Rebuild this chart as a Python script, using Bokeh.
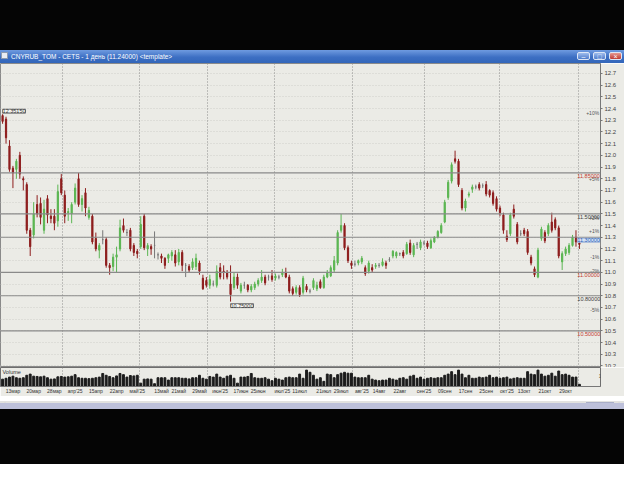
import numpy as np
from bokeh.plotting import figure
from bokeh.layouts import column
from bokeh.models import (ColumnDataSource, FixedTicker, SingleIntervalTicker, Grid,
                          Range1d, Label, Div, NumeralTickFormatter, Span)
from bokeh.core.properties import value
from bokeh.embed import file_html
from bokeh.resources import INLINE

# ---------------- data ----------------
opens = [
    12.34, 12.31, 12.08, 11.89, 11.88, 12.00, 11.80, 11.75, 11.36, 11.32,
    11.58, 11.59, 11.36, 11.63, 11.48, 11.48, 11.44, 11.80, 11.66, 11.51,
    11.50, 11.60, 11.80, 11.58, 11.68, 11.47, 11.48, 11.29, 11.19, 11.28,
    11.28, 11.06, 11.05, 11.13, 11.20, 11.40, 11.34, 11.36, 11.23, 11.18,
    11.22, 11.48, 11.20, 11.22, 11.23, 11.15, 11.14, 11.12, 11.12, 11.14,
    11.15, 11.09, 11.17, 11.06, 11.05, 11.04, 11.05, 11.08, 10.95, 10.93,
    10.89, 10.90, 10.89, 11.04, 11.01, 11.00, 10.90, 10.87, 10.96, 10.84,
    10.89, 10.89, 10.85, 10.87, 10.90, 10.93, 10.96, 10.96, 10.97, 10.95,
    10.96, 10.98, 11.00, 10.96, 10.86, 10.83, 10.87, 10.83, 10.88, 10.84,
    10.87, 10.86, 10.92, 10.87, 10.96, 10.97, 11.02, 11.08, 11.36, 11.40,
    11.21, 11.08, 11.07, 11.08, 11.09, 11.04, 11.01, 11.04, 11.05, 11.06,
    11.06, 11.08, 11.11, 11.14, 11.14, 11.16, 11.17, 11.16, 11.25, 11.15,
    11.24, 11.21, 11.25, 11.25, 11.21, 11.26, 11.30, 11.34, 11.43, 11.64,
    11.78, 11.97, 11.95, 11.70, 11.55, 11.66, 11.71, 11.73, 11.75, 11.74,
    11.75, 11.70, 11.68, 11.63, 11.55, 11.49, 11.31, 11.33, 11.54, 11.41,
    11.33, 11.36, 11.35, 11.13, 11.03, 10.96, 11.29, 11.34, 11.33, 11.43,
    11.45, 11.38, 11.09, 11.16, 11.17, 11.23, 11.30, 11.25]
highs = [
    12.3515, 12.33, 12.13, 11.91, 11.97, 12.03, 11.82, 11.77, 11.38, 11.60,
    11.66, 11.64, 11.62, 11.66, 11.54, 11.54, 11.75, 11.84, 11.70, 11.55,
    11.60, 11.76, 11.85, 11.66, 11.72, 11.56, 11.50, 11.34, 11.25, 11.36,
    11.30, 11.08, 11.16, 11.22, 11.45, 11.46, 11.37, 11.38, 11.25, 11.20,
    11.48, 11.50, 11.25, 11.24, 11.35, 11.17, 11.16, 11.13, 11.16, 11.19,
    11.19, 11.20, 11.19, 11.08, 11.07, 11.12, 11.16, 11.10, 10.98, 10.96,
    10.98, 10.93, 11.06, 11.08, 11.06, 11.02, 11.06, 11.00, 10.99, 10.91,
    10.92, 10.90, 10.90, 10.92, 10.95, 11.02, 10.98, 10.98, 11.02, 10.99,
    10.98, 11.03, 11.04, 10.98, 10.88, 10.89, 10.89, 10.97, 10.90, 10.86,
    10.95, 10.92, 10.94, 10.98, 11.02, 11.06, 11.14, 11.36, 11.50, 11.42,
    11.23, 11.10, 11.10, 11.11, 11.14, 11.06, 11.10, 11.07, 11.08, 11.08,
    11.12, 11.10, 11.13, 11.19, 11.18, 11.17, 11.19, 11.26, 11.28, 11.25,
    11.26, 11.28, 11.27, 11.27, 11.29, 11.31, 11.36, 11.42, 11.62, 11.79,
    11.94, 12.04, 11.97, 11.72, 11.63, 11.69, 11.75, 11.75, 11.77, 11.76,
    11.78, 11.71, 11.70, 11.65, 11.57, 11.51, 11.36, 11.51, 11.58, 11.43,
    11.36, 11.38, 11.37, 11.15, 11.05, 11.21, 11.39, 11.36, 11.42, 11.51,
    11.47, 11.40, 11.18, 11.22, 11.25, 11.32, 11.36, 11.27]
lows = [
    12.27, 12.10, 11.86, 11.72, 11.80, 11.80, 11.70, 11.33, 11.14, 11.29,
    11.47, 11.41, 11.33, 11.42, 11.42, 11.36, 11.39, 11.66, 11.42, 11.44,
    11.42, 11.58, 11.56, 11.52, 11.48, 11.45, 11.24, 11.18, 11.12, 11.24,
    11.04, 10.98, 11.01, 11.00, 11.18, 11.34, 11.31, 11.18, 11.14, 11.12,
    11.20, 11.19, 11.14, 11.15, 11.12, 11.11, 11.08, 11.03, 11.08, 11.10,
    11.05, 11.06, 11.01, 10.96, 11.00, 11.02, 11.02, 10.98, 10.85, 10.87,
    10.86, 10.88, 10.87, 10.94, 10.94, 10.94, 10.75, 10.85, 10.86, 10.82,
    10.86, 10.83, 10.83, 10.85, 10.88, 10.91, 10.89, 10.93, 10.92, 10.93,
    10.94, 10.96, 10.95, 10.82, 10.80, 10.81, 10.79, 10.81, 10.83, 10.82,
    10.85, 10.84, 10.86, 10.86, 10.95, 10.96, 11.00, 11.06, 11.34, 11.19,
    11.08, 11.03, 11.05, 11.06, 11.07, 10.97, 10.99, 11.00, 11.03, 11.04,
    11.05, 11.03, 11.09, 11.12, 11.12, 11.14, 11.12, 11.15, 11.15, 11.13,
    11.20, 11.19, 11.23, 11.20, 11.20, 11.25, 11.29, 11.33, 11.42, 11.62,
    11.76, 11.93, 11.73, 11.53, 11.52, 11.64, 11.68, 11.71, 11.70, 11.72,
    11.65, 11.64, 11.57, 11.52, 11.48, 11.33, 11.26, 11.31, 11.46, 11.24,
    11.31, 11.31, 11.15, 11.06, 10.96, 10.95, 11.27, 11.25, 11.31, 11.34,
    11.36, 11.12, 11.02, 11.14, 11.15, 11.22, 11.22, 11.20]
closes = [
    12.29, 12.15, 11.88, 11.85, 11.95, 11.84, 11.79, 11.36, 11.22, 11.50,
    11.50, 11.47, 11.54, 11.49, 11.46, 11.42, 11.69, 11.68, 11.48, 11.52,
    11.58, 11.72, 11.58, 11.63, 11.55, 11.53, 11.26, 11.20, 11.23, 11.28,
    11.06, 11.04, 11.13, 11.15, 11.38, 11.36, 11.34, 11.20, 11.17, 11.16,
    11.41, 11.21, 11.23, 11.20, 11.23, 11.15, 11.12, 11.06, 11.15, 11.17,
    11.08, 11.17, 11.06, 11.06, 11.02, 11.09, 11.12, 11.01, 10.86, 10.89,
    10.94, 10.90, 11.01, 10.96, 11.00, 10.96, 10.81, 10.96, 10.89, 10.89,
    10.89, 10.85, 10.88, 10.90, 10.93, 10.96, 10.91, 10.96, 10.94, 10.97,
    10.96, 11.00, 10.96, 10.84, 10.82, 10.87, 10.81, 10.95, 10.85, 10.84,
    10.93, 10.89, 10.87, 10.96, 11.00, 11.04, 11.10, 11.34, 11.40, 11.21,
    11.10, 11.06, 11.07, 11.10, 11.12, 10.99, 11.08, 11.02, 11.06, 11.06,
    11.09, 11.06, 11.11, 11.18, 11.17, 11.16, 11.14, 11.24, 11.17, 11.23,
    11.24, 11.26, 11.25, 11.22, 11.27, 11.30, 11.35, 11.40, 11.60, 11.77,
    11.92, 11.95, 11.75, 11.55, 11.61, 11.67, 11.73, 11.73, 11.72, 11.74,
    11.67, 11.66, 11.59, 11.54, 11.51, 11.36, 11.28, 11.49, 11.48, 11.26,
    11.33, 11.33, 11.17, 11.08, 10.98, 11.19, 11.37, 11.27, 11.40, 11.36,
    11.38, 11.14, 11.16, 11.20, 11.23, 11.30, 11.26, 11.24]
volumes_mln = [
    7.7, 8.7, 10.0, 11.0, 9.3, 8.7, 9.3, 12.0, 13.3, 11.0,
    10.7, 10.3, 11.0, 9.3, 7.7, 8.0, 10.3, 10.7, 10.0, 10.3,
    11.0, 12.7, 9.3, 8.7, 8.7, 8.3, 8.7, 9.3, 10.0, 14.0,
    12.0, 10.7, 9.3, 11.3, 14.0, 12.7, 10.0, 11.7, 11.3, 12.0,
    3.3, 7.7, 8.0, 7.7, 2.7, 9.3, 9.3, 9.3, 6.7, 9.3,
    9.3, 9.3, 8.7, 8.7, 8.0, 9.3, 9.3, 12.0, 8.7, 7.7,
    10.7, 10.0, 13.3, 10.0, 8.7, 11.0, 12.0, 8.7, 3.3, 10.0,
    10.0, 10.7, 14.0, 9.3, 8.7, 8.7, 9.3, 7.7, 6.0, 8.7,
    7.7, 6.7, 9.3, 10.0, 9.3, 9.3, 13.3, 8.7, 17.7, 15.3,
    12.0, 7.7, 9.3, 5.3, 13.3, 12.7, 9.3, 12.7, 14.3, 15.3,
    14.3, 14.3, 10.0, 9.3, 9.3, 9.3, 12.0, 7.7, 6.7, 6.0,
    6.7, 6.7, 8.7, 7.7, 6.7, 8.7, 9.3, 7.7, 11.0, 12.0,
    8.7, 10.0, 7.7, 8.7, 9.3, 8.7, 9.3, 9.3, 12.0, 13.3,
    16.0, 12.7, 17.7, 13.3, 9.3, 12.0, 8.7, 8.7, 10.0, 9.3,
    10.0, 12.0, 9.3, 10.0, 8.7, 9.3, 10.0, 8.0, 8.7, 9.3,
    8.7, 8.7, 16.0, 13.3, 12.7, 17.7, 13.3, 11.0, 12.0, 14.3,
    11.0, 16.7, 12.7, 13.3, 12.0, 10.0, 10.0, 2.0]

tick_labels = ["13мар", "20мар", "28мар", "апр'25", "15апр", "22апр", "май'25",
               "13май", "21май", "29май", "июн'25", "17июн", "25июн", "июл'25",
               "11июл", "21июл", "29июл", "авг'25", "14авг", "22авг", "сен'25",
               "09сен", "17сен", "25сен", "окт'25", "13окт", "21окт", "29окт"]
level_values = [11.85, 11.50, 11.30, 11.00, 10.80, 10.50]
pct_levels = [10, 5, 2, 1, -1, -2, -5]
volume_tick_mln = 11

# ---------------- layout / style constants ----------------
tick_pos = [3, 9, 15, 21, 27, 33, 39, 46, 51, 57, 63, 69, 74, 81, 86, 93, 98,
            104, 109, 115, 122, 128, 134, 140, 146, 151, 157, 163]
grid_x = [17.3, 39.6, 59.3, 78.7, 101.3, 122.1, 143.9, 166.7]
level_colors = ["#c23a2e", "#3c3c3c", "#2c5fb8", "#c23a2e", "#3c3c3c", "#c23a2e"]
FONT = "Liberation Sans"
BG = "#ebebe6"
UP, DOWN, FLAT = "#5cb653", "#8e1e1e", "#777777"
RB = 24  # right border (axis area)

n = len(closes)
colors = [UP if c > o + 0.004 else (DOWN if c < o - 0.004 else FLAT)
          for o, c in zip(opens, closes)]
src = ColumnDataSource(dict(x=list(range(n)), o=opens, h=highs, l=lows, c=closes,
                            color=colors, v=volumes_mln))

xr = Range1d(-0.6, 173.1)

# ---------------- price pane ----------------
p = figure(width=624, height=304, x_range=xr, y_range=Range1d(10.187, 12.785),
           output_backend="svg", toolbar_location=None, y_axis_location="right",
           x_axis_location=None, min_border_left=0, min_border_right=RB,
           min_border_top=0, min_border_bottom=0, background_fill_color=BG,
           border_fill_color=BG, outline_line_color="#8a8a8a", margin=(0, 0, 0, 0))
p.yaxis.ticker = SingleIntervalTicker(interval=0.1, num_minor_ticks=0)
p.yaxis.formatter = NumeralTickFormatter(format="0.0")
p.yaxis.axis_line_color = "#777777"
p.yaxis.major_tick_line_color = "#777777"
p.yaxis.major_tick_out = 2
p.yaxis.major_tick_in = 0
p.yaxis.minor_tick_line_color = None
p.yaxis.major_label_text_font = FONT
p.yaxis.major_label_text_font_size = "6px"
p.yaxis.major_label_text_color = "#444444"
p.yaxis.major_label_standoff = 2
p.ygrid.grid_line_color = "#cfcfca"
p.ygrid.grid_line_dash = "1 2"
p.xgrid.grid_line_color = None
p.add_layout(Grid(dimension=0, ticker=FixedTicker(ticks=grid_x),
                  grid_line_color="#8c8c8c", grid_line_dash="1 2"))

for lv in level_values:
    p.add_layout(Span(location=lv, dimension="width", line_color="#8a8a8a", line_width=1.2))

p.segment(x0="x", y0="h", x1="x", y1="l", line_color="color", line_width=1, source=src)
p.vbar(x="x", width=0.35, top="o", bottom="c", fill_color="color", line_color="color",
       line_width=1, source=src)

for lv, col in zip(level_values, level_colors):
    boxed = col == "#2c5fb8"
    p.add_layout(Label(x=n - 1.6, y=lv, text=f"{lv:.5f}", text_align="left",
                       text_baseline="top", y_offset=-1, text_font=FONT,
                       text_font_size="5.5px", text_color=col,
                       background_fill_color="#d6e4f6" if boxed else None,
                       border_line_color="#9db3d8" if boxed else None))

last = closes[-1]
pct_y = [last * (1 + q / 100) for q in pct_levels]
pct_txt = [f"{q:+d}%" for q in pct_levels]
p.text(x=[xr.end - 0.4] * len(pct_y), y=pct_y, text=pct_txt, text_align="right",
       text_baseline="middle", text_font=value(FONT), text_font_size="5px",
       text_color="#555555")

i_max = int(np.argmax(highs))
i_min = int(np.argmin(lows))
p.add_layout(Label(x=i_max, y=highs[i_max], text=f"{highs[i_max]:.5f}", text_align="left",
                   text_baseline="bottom", y_offset=1, text_font=FONT,
                   text_font_size="5.5px", text_color="#333333",
                   background_fill_color="#f6f6f3", border_line_color="#777777"))
p.add_layout(Label(x=i_min, y=lows[i_min], text=f"{lows[i_min]:.5f}", text_align="left",
                   text_baseline="top", y_offset=-2, text_font=FONT,
                   text_font_size="5.5px", text_color="#333333",
                   background_fill_color="#f6f6f3", border_line_color="#777777"))
p.add_layout(Label(x=xr.end, y=last, text=f"{last:.5f}", text_align="right",
                   text_baseline="middle", x_offset=RB - 1, text_font=FONT,
                   text_font_size="5.5px", text_color="#222222",
                   background_fill_color="#cdcdcd", border_line_color="#b0b0b0"))

# ---------------- volume pane ----------------
v = figure(width=624, height=29, x_range=xr, y_range=Range1d(-0.4, 20.6),
           output_backend="svg", toolbar_location=None, y_axis_location=None,
           min_border_left=0, min_border_right=RB, min_border_top=0, min_border_bottom=8,
           background_fill_color=BG, border_fill_color=BG,
           outline_line_color="#6e6e6e", margin=(0, 0, 0, 0))
v.vbar(x="x", width=0.55, top="v", bottom=0, color="#1c1c1c", source=src)
v.xaxis.ticker = FixedTicker(ticks=tick_pos)
v.xaxis.major_label_overrides = dict(zip(tick_pos, tick_labels))
v.xaxis.axis_line_color = "#777777"
v.xaxis.major_tick_out = 0
v.xaxis.major_tick_in = 0
v.xaxis.minor_tick_line_color = None
v.xaxis.major_label_standoff = 1
v.xaxis.major_label_text_font = FONT
v.xaxis.major_label_text_font_size = "5px"
v.xaxis.major_label_text_color = "#333333"
v.xgrid.grid_line_color = None
v.ygrid.grid_line_color = None
v.add_layout(Grid(dimension=0, ticker=FixedTicker(ticks=grid_x),
                  grid_line_color="#8c8c8c", grid_line_dash="1 2"))
v.add_layout(Label(x=xr.start, y=20.6, text="Volume", x_offset=2, y_offset=-1,
                   text_baseline="top", text_font=FONT, text_font_size="5.5px",
                   text_color="#333333"))
v.add_layout(Label(x=xr.end, y=volume_tick_mln,
                   text=f"{volume_tick_mln * 1_000_000:,}".replace(",", " "),
                   x_offset=RB - 1, text_align="right", text_baseline="middle",
                   text_font=FONT, text_font_size="5px", text_color="#444444"))
v.add_layout(Label(x=xr.end, y=0, text="0", x_offset=2, text_baseline="middle",
                   text_font=FONT, text_font_size="5px", text_color="#444444"))

# ---------------- window chrome ----------------
title_text = f"CNYRUB_TOM - CETS - 1 день ({last:.5f}) &lt;template&gt;"
btn = ("position:absolute;top:2px;width:13px;height:8px;border:1px solid #dce6f6;"
       "border-radius:2px;color:#fff;font-size:7px;line-height:8px;text-align:center;")
title_div = Div(text=(
    "<div style=\"position:relative;width:624px;height:13px;overflow:hidden;"
    "background:linear-gradient(#6f9be0,#3d6fc3 55%,#3266ba);font-family:'Liberation Sans';\">"
    "<div style=\"position:absolute;left:1px;top:2px;width:7px;height:7px;background:#e9edf3;"
    "border:1px solid #8d9bb0;\"></div>"
    "<div style=\"position:absolute;left:11px;top:1px;font-size:6.5px;line-height:11px;"
    "color:#ffffff;white-space:nowrap;\">" + title_text + "</div>"
    "<div style=\"" + btn + "left:577px;background:linear-gradient(#9dbbec,#4f7dcc);\">&#8211;</div>"
    "<div style=\"" + btn + "left:593px;background:linear-gradient(#9dbbec,#4f7dcc);\">&#9633;</div>"
    "<div style=\"" + btn + "left:609px;background:linear-gradient(#e79a92,#bf3b33);\">&#215;</div>"
    "</div>"), width=624, height=13, margin=(0, 0, 0, 0))

top_black = Div(text="<div style=\"width:624px;height:50px;background:#050505;\"></div>",
                width=624, height=50, margin=(0, 0, 0, 0),
                styles={"background-color": "#050505"})
scroll_div = Div(text=(
    "<div style=\"position:relative;width:624px;height:7px;background:#e2e2e0;"
    "font-family:'Liberation Sans';font-size:6px;color:#444;\">"
    "<span style=\"position:absolute;left:2px;top:0;line-height:7px;\">&lt;</span>"
    "<div style=\"position:absolute;left:586px;top:1px;width:28px;height:5px;background:#a9aec8;\"></div>"
    "<span style=\"position:absolute;right:2px;top:0;line-height:7px;\">&gt;</span></div>"),
    width=624, height=7, margin=(0, 0, 0, 0))
band_div = Div(text="<div style=\"width:624px;height:6px;background:#bdc0da;\"></div>",
               width=624, height=6, margin=(0, 0, 0, 0),
               styles={"background-color": "#bdc0da"})
bottom_black = Div(text="<div style=\"width:624px;height:55px;background:#050505;\"></div>",
                   width=624, height=55, margin=(0, 0, 0, 0),
                   styles={"background-color": "#050505"})

layout = column(top_black, title_div, p, v, scroll_div, band_div, bottom_black,
                spacing=0, margin=(0, 0, 0, 0))

open("out.html", "w").write(file_html(layout, INLINE))
